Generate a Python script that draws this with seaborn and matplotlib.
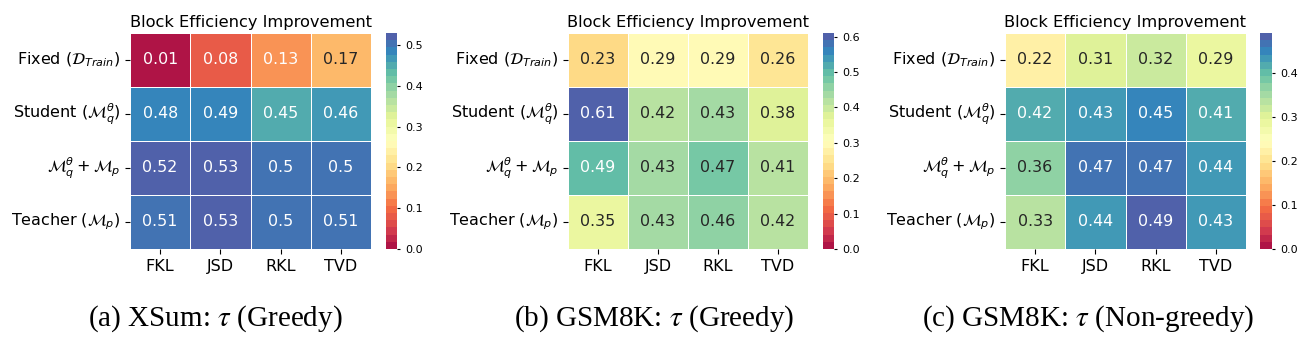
import numpy as np
import pandas as pd
import matplotlib
matplotlib.use("Agg")
import matplotlib.pyplot as plt
from matplotlib.colors import ListedColormap
import seaborn as sns

methods = ["FKL", "JSD", "RKL", "TVD"]
sources = [r"Fixed ($\mathcal{D}_{Train}$)", r"Student ($\mathcal{M}_q^\theta$)",
           r"$\mathcal{M}_q^\theta + \mathcal{M}_p$", r"Teacher ($\mathcal{M}_p$)"]

xsum_greedy = [[0.01, 0.08, 0.13, 0.17],
               [0.48, 0.49, 0.45, 0.46],
               [0.52, 0.53, 0.50, 0.50],
               [0.51, 0.53, 0.50, 0.51]]
gsm_greedy = [[0.23, 0.29, 0.29, 0.26],
              [0.61, 0.42, 0.43, 0.38],
              [0.49, 0.43, 0.47, 0.41],
              [0.35, 0.43, 0.46, 0.42]]
gsm_nongreedy = [[0.22, 0.31, 0.32, 0.29],
                 [0.42, 0.43, 0.45, 0.41],
                 [0.36, 0.47, 0.47, 0.44],
                 [0.33, 0.44, 0.49, 0.43]]

captions = [r"(a) XSum: $\tau$ (Greedy)", r"(b) GSM8K: $\tau$ (Greedy)",
            r"(c) GSM8K: $\tau$ (Non-greedy)"]
title = "Block Efficiency Improvement"

W, H = 1315, 341
fig = plt.figure(figsize=(W / 100, H / 100), dpi=100)
cmap = ListedColormap(sns.color_palette("Spectral", 30))

# pixel boxes: heatmap (x0, x1), colorbar (x0, x1)
hm_x = [(130, 371), (568, 808), (1005, 1246)]
cb_x = [(386, 397), (823, 834), (1260, 1272)]
y_top, y_bot = 33, 249
cap_x = [215, 654, 1088]


def lum(c):
    rgb = np.array(c[:3])
    lin = np.where(rgb <= 0.03928, rgb / 12.92, ((rgb + 0.055) / 1.055) ** 2.4)
    return 0.2126 * lin[0] + 0.7152 * lin[1] + 0.0722 * lin[2]


for i, data in enumerate([xsum_greedy, gsm_greedy, gsm_nongreedy]):
    df = pd.DataFrame(data, index=sources, columns=methods)
    ax = fig.add_axes([hm_x[i][0] / W, 1 - y_bot / H, (hm_x[i][1] - hm_x[i][0]) / W,
                       (y_bot - y_top) / H])
    cax = fig.add_axes([cb_x[i][0] / W, 1 - y_bot / H, (cb_x[i][1] - cb_x[i][0]) / W,
                        (y_bot - y_top) / H])
    vmax = np.max(data)
    sns.heatmap(df, ax=ax, cbar_ax=cax, cmap=cmap, vmin=0, vmax=vmax,
                annot=True, fmt=".2g", annot_kws={"fontsize": 11.4},
                linewidths=0.7, linecolor="white")
    # text colour by cell luminance
    flat = np.array(data).ravel()
    for t, v in zip(ax.texts, flat):
        c = cmap(v / vmax)
        t.set_color("white" if lum(c) < 0.43 else ".15")
    ax.set_title(title, fontsize=11.7, pad=4)
    ax.tick_params(axis="both", labelsize=11.5, length=3.5)
    ax.set_yticklabels(ax.get_yticklabels(), rotation=0)
    ax.set_xticklabels(ax.get_xticklabels(), rotation=0)
    cax.tick_params(labelsize=8, length=2.5)
    fig.text(cap_x[i] / W, 1 - 319 / H, captions[i], ha="center", va="center",
             fontsize=21, family="Liberation Serif", math_fontfamily="stix")

fig.savefig("out.png", dpi=100)
